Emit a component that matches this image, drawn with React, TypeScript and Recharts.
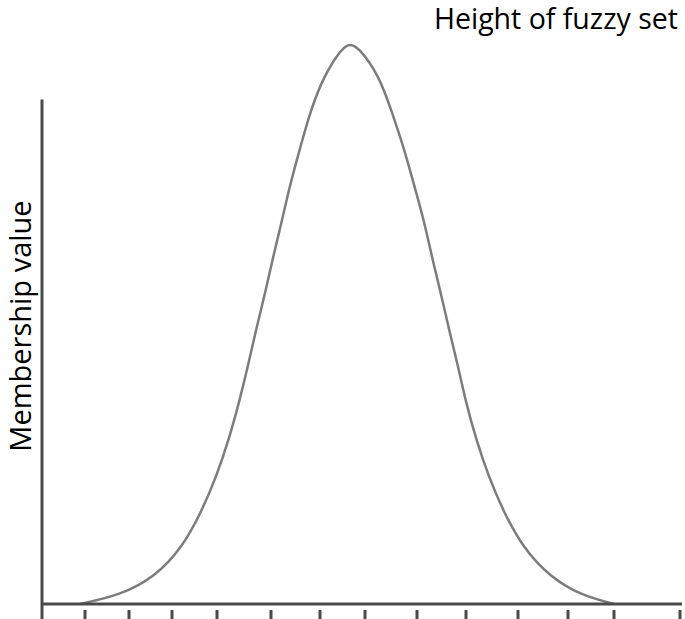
import { LineChart, Line, XAxis, YAxis, ReferenceLine } from "recharts";

// universe of discourse (x) and membership degree
const xValues = [
  38, 79, 113, 140, 160, 175, 187, 197, 206, 214, 223, 231, 240, 248, 258, 268, 282, 301, 308,
  316, 337, 350, 362, 372, 382, 390, 399, 407, 416, 424, 434, 446, 461, 481, 508, 538, 572,
];
const membership = [
  0, 0.018, 0.054, 0.111, 0.185, 0.256, 0.327, 0.399, 0.472, 0.544, 0.615, 0.687, 0.76, 0.831,
  0.903, 0.975, 1.048, 1.105, 1.11, 1.105, 1.048, 0.975, 0.903, 0.831, 0.76, 0.687, 0.615, 0.544,
  0.472, 0.399, 0.327, 0.256, 0.185, 0.111, 0.054, 0.018, 0,
];
const xTicks = [43, 87, 130, 175, 229, 278, 323, 375, 424, 476, 526, 572, 638];

const data = xValues.map((x, i) => ({ x, mu: membership[i] }));

const AXIS = "#4a4a4a";
const FONT = "'Open Sans', 'Noto Sans', sans-serif";

export default function App() {
  return (
    <div style={{ position: "absolute", left: 0, top: 0, width: 685, height: 619, background: "#fff" }}>
      <LineChart
        width={685}
        height={619}
        data={data}
        margin={{ top: 39, right: 3, bottom: 0, left: 42 }}
      >
        <XAxis
          dataKey="x"
          type="number"
          domain={[0, 640]}
          ticks={xTicks}
          tick={() => <g />}
          height={15}
          tickSize={15}
          axisLine={{ stroke: AXIS, strokeWidth: 3 }}
          tickLine={{ stroke: AXIS, strokeWidth: 3, strokeDasharray: "9 6" }}
        />
        <YAxis hide domain={[0, 1.12]} allowDataOverflow />
        <ReferenceLine
          segment={[
            { x: 0, y: -0.03 },
            { x: 0, y: 1 },
          ]}
          stroke={AXIS}
          strokeWidth={3}
          ifOverflow="visible"
        />
        <Line
          type="basis"
          dataKey="mu"
          stroke="#7c7c7c"
          strokeWidth={2.5}
          dot={false}
          isAnimationActive={false}
        />
      </LineChart>
      <div
        style={{
          position: "absolute",
          right: 7,
          top: -1,
          fontFamily: FONT,
          fontSize: 28.5,
          color: "#000",
          whiteSpace: "nowrap",
        }}
      >
        Height of fuzzy set
      </div>
      <div
        style={{
          position: "absolute",
          left: 19,
          top: 326,
          transform: "translate(-50%, -50%) rotate(-90deg)",
          fontFamily: FONT,
          fontSize: 29,
          color: "#000",
          whiteSpace: "nowrap",
        }}
      >
        Membership value
      </div>
    </div>
  );
}
